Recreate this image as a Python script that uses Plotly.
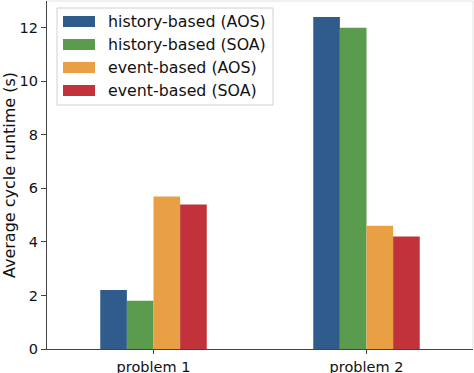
import plotly.graph_objects as go

categories = ["problem 1", "problem 2"]
series_names = ["history-based (AOS)", "history-based (SOA)", "event-based (AOS)", "event-based (SOA)"]
hist_aos = [2.2, 12.4]
hist_soa = [1.8, 12.0]
event_aos = [5.7, 4.6]
event_soa = [5.4, 4.2]
y_ticks = [0, 2, 4, 6, 8, 10, 12]

colors = ["#2f5b8d", "#5b9b4e", "#e9a044", "#c1323b"]
values = [hist_aos, hist_soa, event_aos, event_soa]

FONT = "DejaVu Sans"
fig = go.Figure()
for name, vals, col in zip(series_names, values, colors):
    fig.add_trace(go.Bar(x=categories, y=vals, name=name, marker=dict(color=col, line=dict(width=0)),
                         showlegend=False))

W, H = 474, 373
ml, mr, mt, mb = 47, 1, 1, 24
pw, ph = W - ml - mr, H - mt - mb

def px(x):
    return (x - ml) / pw

def py(y):
    return (H - mb - y) / ph

shapes = []
annotations = []
# legend box
shapes.append(dict(type="rect", xref="paper", yref="paper", x0=px(57), x1=px(273), y0=py(105), y1=py(8),
                   line=dict(color="#d0d0d0", width=1), fillcolor="rgba(255,255,255,0.8)", layer="above"))
rows = [21.5, 44.5, 67.5, 90.5]
for name, col, yc in zip(series_names, colors, rows):
    shapes.append(dict(type="rect", xref="paper", yref="paper", x0=px(63), x1=px(95), y0=py(yc + 5.5), y1=py(yc - 5.5),
                       line=dict(width=0), fillcolor=col, layer="above"))
    annotations.append(dict(text=name, xref="paper", yref="paper", x=px(106), y=py(yc), xanchor="left",
                            yanchor="middle", showarrow=False, font=dict(family=FONT, size=15.8, color="#111")))
# light top/right frame
shapes.append(dict(type="line", xref="paper", yref="paper", x0=0, x1=1, y0=1, y1=1, line=dict(color="#e2e2e2", width=1)))
shapes.append(dict(type="line", xref="paper", yref="paper", x0=1, x1=1, y0=0, y1=1, line=dict(color="#e2e2e2", width=1)))

fig.update_layout(
    width=W, height=H,
    margin=dict(l=ml, r=mr, t=mt, b=mb, autoexpand=False),
    paper_bgcolor="white", plot_bgcolor="white",
    barmode="group", bargap=0.5, bargroupgap=0,
    font=dict(family=FONT, size=14.5, color="#111"),
    shapes=shapes, annotations=annotations,
    showlegend=False,
)
fig.update_xaxes(range=[-0.5, 1.5], showline=True, linecolor="#444", linewidth=1.2, automargin=False,
                 ticks="outside", ticklen=4, tickcolor="#444", showgrid=False, zeroline=False,
                 tickfont=dict(family=FONT, size=14.5))
fig.update_yaxes(range=[0, 13.0], tickvals=y_ticks, showline=True, linecolor="#444", linewidth=1.2, automargin=False,
                 ticks="outside", ticklen=5, tickcolor="#444", showgrid=False, zeroline=False,
                 tickfont=dict(family=FONT, size=14.5),
                 title=dict(text="Average cycle runtime (s)", font=dict(family=FONT, size=16), standoff=7))

fig.write_html("out.html", config={"displayModeBar": False},
               post_script="document.body.style.margin='0';document.body.style.overflow='hidden';")
